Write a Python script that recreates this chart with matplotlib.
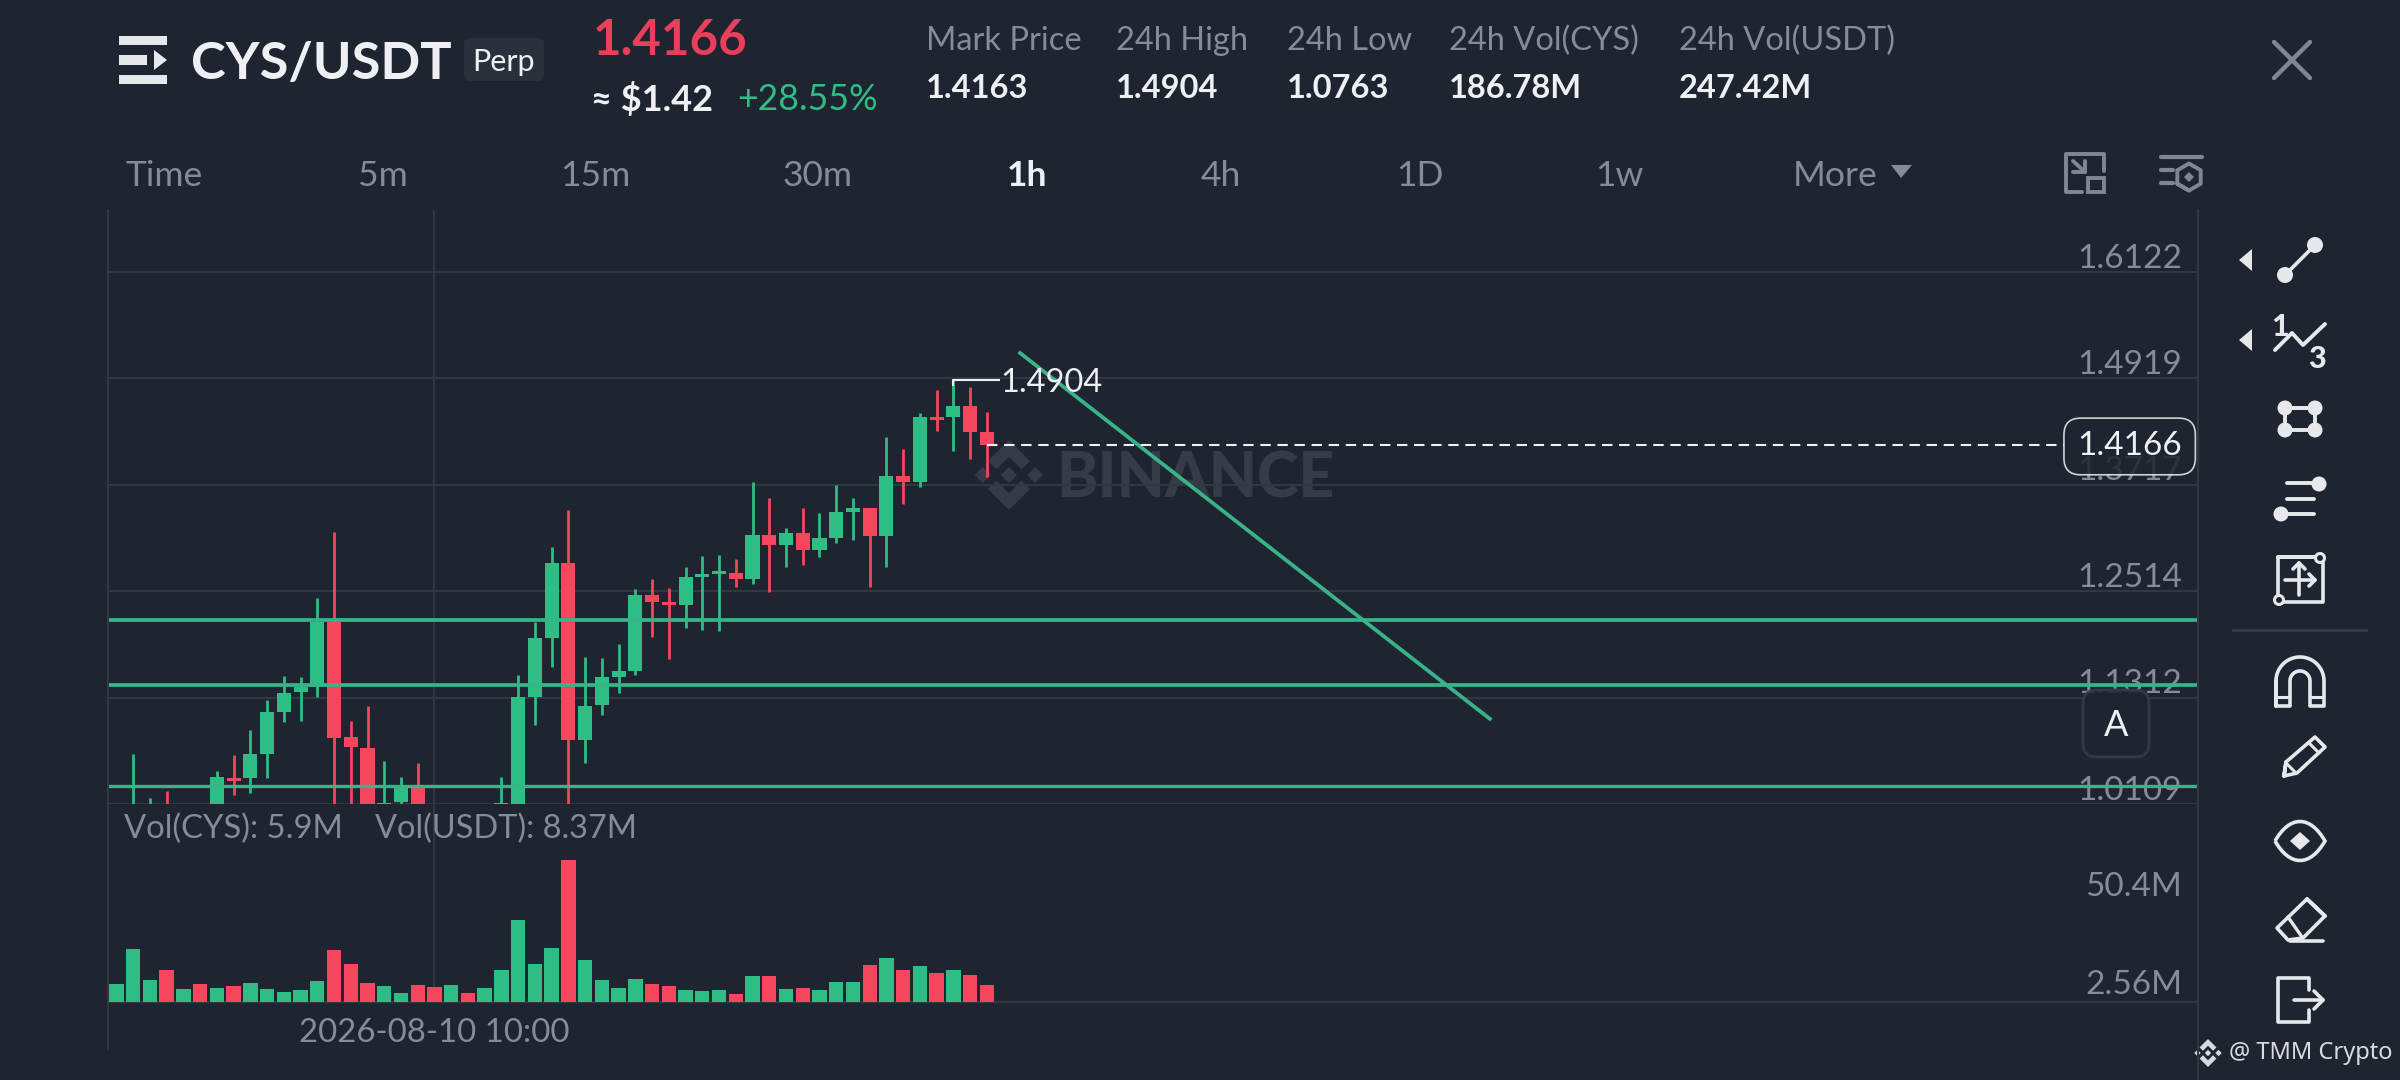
import matplotlib
matplotlib.use("Agg")
import matplotlib.pyplot as plt
from matplotlib.patches import FancyBboxPatch, Polygon, Circle, Rectangle, PathPatch
from matplotlib.path import Path
import numpy as np

# values
opens = [0.985, 0.995, 0.99, 1.005, 0.985, 1.0, 0.985, 1.0408, 1.0401, 1.0676,
         1.1154, 1.1373, 1.1429, 1.2171, 1.0868, 1.0740, 1.0105, 1.0133, 1.0299, 1.0,
         0.985, 1.0, 0.99, 1.005, 1.005, 1.1323, 1.1990, 1.2830, 1.0834, 1.1226,
         1.1549, 1.1617, 1.2472, 1.2390, 1.2359, 1.2676, 1.2706, 1.2724, 1.2653, 1.3147,
         1.3037, 1.3176, 1.2977, 1.3116, 1.3410, 1.3452, 1.3139, 1.3814, 1.3746, 1.4480,
         1.4484, 1.4611, 1.4311]
highs = [1.005, 1.0676, 1.0182, 1.0258, 1.005, 1.008, 1.0487, 1.0664, 1.0947, 1.1286,
         1.1560, 1.1549, 1.2435, 1.3188, 1.1052, 1.1218, 1.0600, 1.0412, 1.0577, 1.007,
         1.005, 1.006, 1.005, 1.0412, 1.1568, 1.2171, 1.3018, 1.3433, 1.1768, 1.1764,
         1.1919, 1.2544, 1.2650, 1.2551, 1.2792, 1.2913, 1.2924, 1.2882, 1.3752, 1.3565,
         1.3233, 1.3455, 1.3395, 1.3712, 1.3572, 1.3452, 1.4261, 1.4119, 1.4525, 1.4789,
         1.4904, 1.4819, 1.4540]
lows = [0.975, 0.985, 0.98, 0.98, 0.975, 0.98, 0.975, 1.0212, 1.0238, 1.0408,
        1.1034, 1.1045, 1.1323, 0.99, 0.99, 0.98, 1.0, 1.0114, 0.985, 0.975,
        0.975, 0.98, 0.98, 0.99, 0.99, 1.1000, 1.1662, 0.99, 1.0577, 1.1120,
        1.1368, 1.1565, 1.2001, 1.1746, 1.2103, 1.2077, 1.2066, 1.2559, 1.2597, 1.2510,
        1.2785, 1.2811, 1.2898, 1.3063, 1.3090, 1.2566, 1.2785, 1.3504, 1.3696, 1.4329,
        1.4103, 1.4009, 1.3809]
closes = [1.0, 1.005, 1.0, 0.99, 1.0, 0.985, 1.0416, 1.0374, 1.0676, 1.1150,
          1.1368, 1.1429, 1.2171, 1.0860, 1.0755, 0.99, 1.0125, 1.0318, 0.995, 0.985,
          1.0, 0.99, 1.0, 1.0115, 1.1316, 1.1986, 1.2830, 1.0834, 1.1218, 1.1542,
          1.1610, 1.2472, 1.2397, 1.2359, 1.2676, 1.2706, 1.2740, 1.2653, 1.3147, 1.3041,
          1.3169, 1.2977, 1.3113, 1.3407, 1.3452, 1.3139, 1.3817, 1.3746, 1.4480, 1.4450,
          1.4611, 1.4317, 1.4166]
volumes = [6.36, 18.5, 7.75, 11.1, 4.63, 6.36, 4.86, 5.55, 6.48, 4.51,
           3.59, 4.17, 7.40, 18.05, 13.19, 6.71, 5.67, 3.12, 5.90, 5.32,
           6.02, 3.24, 4.98, 10.99, 28.58, 13.31, 18.86, 49.17, 14.69, 7.75,
           4.98, 7.87, 6.25, 5.67, 4.17, 3.93, 4.28, 2.66, 9.14, 9.14,
           4.63, 4.98, 4.28, 6.83, 6.94, 12.73, 15.39, 10.99, 12.50, 9.95,
           10.99, 9.49, 5.90]

price_ticks = [1.6122, 1.4919, 1.3717, 1.2514, 1.1312, 1.0109]
price_labels = ["1.6122", "1.4919", "1.3717", "1.2514", "1.1312", "1.0109"]
support_lines = [1.2190, 1.1459, 1.0318]
trend_x = [53.98, 82.05]
trend_y = [1.5207, 1.1071]
high_price = 1.4904
last_price = 1.4166
date_index = 19
date_label = "2026-08-10 10:00"

stat_names = ["Mark Price", "24h High", "24h Low", "24h Vol(CYS)", "24h Vol(USDT)"]
stat_values = ["1.4163", "1.4904", "1.0763", "186.78M", "247.42M"]
stat_x = [926, 1116, 1287, 1449, 1679]
tab_names = ["Time", "5m", "15m", "30m", "1h", "4h", "1D", "1w", "More"]
tab_x = [164, 383, 595, 817, 1027, 1221, 1420, 1619, 1835]

BG = "#1f2530"
GRID = "#323843"
GREEN = "#2ebd85"
LINE_GREEN = "#37b488"
RED = "#f6465d"
GREY = "#858c97"
WHITE = "#eef0f3"
ICON = "#e6e8ec"
ICON2 = "#7f8694"

plt.rcParams["font.family"] = ["Lato", "DejaVu Sans"]

W, H = 2400, 1080
L, R = 108, 2198
fig = plt.figure(figsize=(24, 10.8), dpi=100, facecolor=BG)

def pane(top, bottom):
    ax = fig.add_axes([L / W, 1 - bottom / H, (R - L) / W, (bottom - top) / H])
    ax.set_facecolor("none")
    ax.set_zorder(2)
    for s in ax.spines.values():
        s.set_visible(False)
    ax.set_xticks([])
    ax.set_yticks([])
    ax.set_xlim((L - 116.4) / 16.74, (R - 116.4) / 16.74)
    return ax

def overlay(z):
    a = fig.add_axes([0, 0, 1, 1])
    a.set_xlim(0, W)
    a.set_ylim(H, 0)
    a.axis("off")
    a.patch.set_alpha(0)
    a.set_zorder(z)
    return a

ax = pane(210, 804)
ax.set_ylim(1.0109, 1.6823)
axv = pane(804, 1002)
axv.set_ylim(0, 68.7)

idx = np.arange(len(opens))
o = np.array(opens)
c = np.array(closes)
up = c >= o
colors = [GREEN if u else RED for u in up]

for a in (ax, axv):
    a.axvline(date_index, color=GRID, lw=1.4, zorder=1)
for p in price_ticks:
    ax.axhline(p, color=GRID, lw=1.5, zorder=1)
axv.axhline(0, color=GRID, lw=1.6, zorder=1, clip_on=False)

# right hand labels sit just above their gridline
for p, s in zip(price_ticks, price_labels):
    ax.annotate(s, xy=(1, p), xycoords=("axes fraction", "data"), xytext=(-11.5, 3.2),
                textcoords="offset points", ha="right", va="baseline", fontsize=24,
                color=GREY, zorder=2, annotation_clip=False)

ax.vlines(idx, lows, highs, colors=colors, lw=2.0, zorder=3)
ax.bar(idx, np.abs(c - o), bottom=np.minimum(c, o), width=0.84, color=colors, zorder=3)

for i, p in enumerate(support_lines):
    ax.axhline(p, color=LINE_GREEN, lw=2.7 if i < 2 else 2.4, zorder=4)
ax.plot(trend_x, trend_y, color=LINE_GREEN, lw=2.7, zorder=4, clip_on=False)

# high marker
ax.plot([50, 50, 52.75], [high_price - 0.006, high_price, high_price], color=WHITE, lw=1.5, zorder=5)
ax.text(52.8, high_price - 0.004, "1.4904", color=WHITE, fontsize=23.5, va="center", ha="left", zorder=6)

# last price line and tag
ax.plot([52, 116.4], [last_price, last_price], color=WHITE, lw=1.5, ls=(0, (5, 3.2)), zorder=5)
ax.annotate("1.4166", xy=(1, last_price), xycoords=("axes fraction", "data"), xytext=(-11.5, -1),
            textcoords="offset points", ha="right", va="center", fontsize=24, color=WHITE, zorder=7,
            annotation_clip=False,
            bbox=dict(boxstyle="round,pad=0.4,rounding_size=0.5", fc=BG, ec=WHITE, lw=1.2, alpha=0.85))

axv.bar(idx, volumes, width=0.86, color=colors, zorder=3)
axv.annotate("50.4M", xy=(1, 0.515), xycoords="axes fraction", xytext=(-11.5, 3.2),
             textcoords="offset points", ha="right", va="baseline", fontsize=24, color=GREY)
axv.annotate("2.56M", xy=(1, 0), xycoords="axes fraction", xytext=(-11.5, 6),
             textcoords="offset points", ha="right", va="baseline", fontsize=24, color=GREY)

# everything around the chart, in pixel coordinates
back = overlay(1)
ui = overlay(3)

def stroke(pts, color=ICON, lw=2.6, closed=False):
    pts = list(pts)
    if closed:
        pts = pts + [pts[0], pts[1]]
    x, y = zip(*pts)
    ui.plot(x, y, color=color, lw=lw, solid_capstyle="round", solid_joinstyle="round")

def fill(pts, color=ICON, target=None):
    (target or ui).add_patch(Polygon(pts, closed=True, fc=color, ec="none"))

def dot(x, y, r, color=ICON):
    ui.add_patch(Circle((x, y), r, fc=color, ec="none", zorder=3))

def ring(x, y, r):
    ui.add_patch(Circle((x, y), r, fc=BG, ec=ICON, lw=2.2, zorder=3))

def logo(cx, cy, s, color, target=None):
    def pt(a, b):
        return (cx + a * s, cy + b * s)
    for dx, dy in [(0, 0), (-0.75, 0), (0.75, 0)]:
        fill([pt(dx, dy - 0.23), pt(dx + 0.23, dy), pt(dx, dy + 0.23), pt(dx - 0.23, dy)], color, target)
    for k in (1, -1):
        fill([pt(0, -k), pt(0.6, -0.4 * k), pt(0.36, -0.16 * k), pt(0, -0.52 * k),
              pt(-0.36, -0.16 * k), pt(-0.6, -0.4 * k)], color, target)

# chart frame
for x, bottom in [(L, 1049), (R, 1080)]:
    ui.plot([x, x], [210, bottom], color=GRID, lw=1.5)

# watermark sits under the candles and lines
logo(1009, 475, 35, "#363c47", back)
back.text(1056, 479, "BINANCE", fontsize=45, fontweight="black", color="#363c47", va="center", ha="left")

# header
ui.add_patch(Rectangle((119, 36), 48, 9, fc=ICON, ec="none"))
ui.add_patch(Rectangle((119, 55), 28, 10, fc=ICON, ec="none"))
ui.add_patch(Rectangle((119, 75), 48, 9, fc=ICON, ec="none"))
fill([(154, 50), (167, 60), (154, 70)])
ui.text(191, 65, "CYS/USDT", fontsize=37.7, fontweight="bold", color=WHITE, va="center", ha="left")
ui.add_patch(FancyBboxPatch((467, 41), 74, 37, boxstyle="round,pad=3,rounding_size=6", fc="#2a303b", ec="none"))
ui.text(504, 62.5, "Perp", fontsize=22, color=WHITE, va="center", ha="center")
ui.text(593, 40.5, "1.4166", fontsize=35.5, fontweight="bold", color="#ea3f5a", va="center", ha="left")
ui.text(591, 100, "≈ $1.42", fontsize=26, fontweight="bold", color=WHITE, va="center", ha="left")
ui.text(737, 100, "+28.55%", fontsize=25.7, color=GREEN, va="center", ha="left")
for name, val, x in zip(stat_names, stat_values, stat_x):
    ui.text(x, 41, name, fontsize=23.5, color=GREY, va="center", ha="left")
    ui.text(x, 89, val, fontsize=23.5, fontweight="bold", color=WHITE, va="center", ha="left")
for name, x in zip(tab_names, tab_x):
    on = name == "1h"
    ui.text(x, 176, name, fontsize=25.5, color=WHITE if on else GREY, fontweight="bold" if on else "normal",
            va="center", ha="center")
fill([(1891, 165), (1912, 165), (1901, 178)], GREY)

# top right icons
stroke([(2274, 42), (2310, 78)], ICON2, 3.2)
stroke([(2310, 42), (2274, 78)], ICON2, 3.2)
stroke([(2082, 192), (2066, 192), (2066, 154), (2104, 154), (2104, 171)], ICON2, 2.8)
ui.add_patch(Rectangle((2088, 178), 16, 14, fc="none", ec=ICON2, lw=2.8))
stroke([(2073, 161), (2085, 172)], ICON2, 2.8)
stroke([(2073, 172), (2085, 172), (2085, 161)], ICON2, 2.8)
stroke([(2161, 157), (2202, 157)], ICON2, 3)
stroke([(2161, 170), (2173, 170)], ICON2, 3)
stroke([(2161, 183), (2173, 183)], ICON2, 3)
ang = np.radians(np.arange(6) * 60 + 90)
stroke([(2189 + 13.5 * np.cos(a), 177 + 13.5 * np.sin(a)) for a in ang], ICON2, 2.8, closed=True)
fill([(2189, 172), (2194, 177), (2189, 182), (2184, 177)], ICON2)

# drawing toolbar
for y in (260, 339):
    fill([(2252, 249), (2252, 271), (2239, 260)] if y == 260 else [(2252, 329), (2252, 351), (2239, 340)])
stroke([(2285, 275), (2315, 245)])
dot(2285, 275, 8)
dot(2315, 245, 8)
stroke([(2275, 350), (2292, 333), (2303, 345), (2325, 324)], lw=2.8)
ui.text(2280, 327, "1", fontsize=22, fontweight="black", color=ICON, ha="center", va="center")
ui.text(2317, 359, "3", fontsize=22, fontweight="black", color=ICON, ha="center", va="center")
stroke([(2285, 408), (2315, 408), (2315, 430), (2285, 430)], lw=2.8, closed=True)
for x in (2285, 2315):
    for y in (408, 430):
        dot(x, y, 7.5)
stroke([(2287, 483), (2315, 483)], lw=2.8)
dot(2319, 484, 7.5)
stroke([(2287, 499), (2314, 499)], lw=2.8)
stroke([(2285, 514), (2314, 514)], lw=2.8)
dot(2281, 514, 7.5)
stroke([(2278, 557), (2323, 557), (2323, 602), (2278, 602)], closed=True)
ring(2320, 558, 4.5)
ring(2279, 600, 4.5)
stroke([(2285, 580), (2315, 580)])
stroke([(2299, 563), (2299, 595)])
stroke([(2309, 574), (2315, 580), (2309, 586)])
stroke([(2293, 569), (2299, 563), (2305, 569)])
ui.plot([2233, 2366], [630, 630], color="#363c47", lw=2)

# magnet
t = np.radians(np.linspace(180, 360, 40))
outer = [(2300 + 24 * np.cos(a), 681 + 24 * np.sin(a)) for a in t]
inner = [(2300 + 10 * np.cos(a), 681 + 10 * np.sin(a)) for a in t[::-1]]
stroke([(2276, 706)] + outer + [(2324, 706), (2310, 706)] + inner + [(2290, 706)], closed=True, lw=2.6)
stroke([(2277, 697), (2289, 697)], lw=2.2)
stroke([(2311, 697), (2323, 697)], lw=2.2)

# pencil
stroke([(2284, 776), (2286, 762), (2315, 737), (2325, 747), (2297, 773)], closed=True)
stroke([(2309, 743), (2319, 753)], lw=2.2)
stroke([(2287, 764), (2295, 772)], lw=2.2)

# eye
eye = Path([(2275, 841), (2290, 815), (2310, 815), (2325, 841), (2310, 867), (2290, 867), (2275, 841)],
           [Path.MOVETO, Path.CURVE4, Path.CURVE4, Path.CURVE4, Path.CURVE4, Path.CURVE4, Path.CURVE4])
ui.add_patch(PathPatch(eye, fc="none", ec=ICON, lw=2.6))
fill([(2300, 832), (2310, 841), (2300, 850), (2290, 841)])

# eraser
stroke([(2307, 899), (2325, 916), (2303, 938), (2288, 940), (2277, 928)], closed=True)
stroke([(2288, 917), (2302, 937)], lw=2.4)
stroke([(2290, 941), (2323, 941)])

# exit
stroke([(2309, 990), (2309, 978), (2278, 978), (2278, 1022), (2309, 1022), (2309, 1010)])
stroke([(2294, 1000), (2323, 1000)])
stroke([(2314, 991), (2323, 1000), (2314, 1009)])

# auto button
ui.add_patch(FancyBboxPatch((2094, 701), 44, 45, boxstyle="round,pad=11,rounding_size=14", fc=BG, ec="#363c47", lw=2, alpha=0.9))
ui.text(2116, 726, "A", fontsize=26, color=WHITE, ha="center", va="center")

# volume header and date
ui.text(124, 829, "Vol(CYS): 5.9M", fontsize=23.6, color=GREY, va="center", ha="left")
ui.text(375, 829, "Vol(USDT): 8.37M", fontsize=23.4, color=GREY, va="center", ha="left")
ui.text(434, 1033, date_label, fontsize=23.8, color=GREY, va="center", ha="center")

# credit
logo(2208, 1053, 14, "#d8dade")
ui.text(2229, 1053, "@ TMM Crypto", fontsize=17, family="Noto Sans", color="#d8dade", va="center", ha="left")

fig.savefig("out.png", dpi=100, facecolor=BG)
